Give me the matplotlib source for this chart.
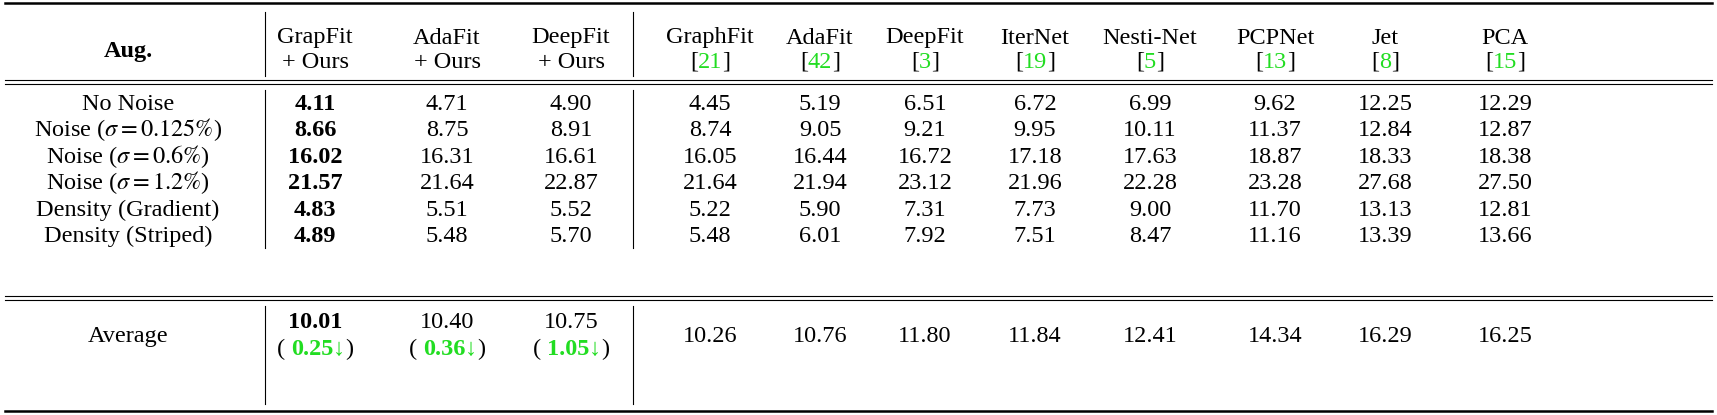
import matplotlib
matplotlib.use('Agg')
import matplotlib.pyplot as plt

plt.rcParams['font.family'] = 'Liberation Serif'
plt.rcParams['mathtext.fontset'] = 'stix'

GREEN = '#22dd22'
# column headers: (line1, line2, citation?)
headers = [('GrapFit', '+ Ours', False), ('AdaFit', '+ Ours', False), ('DeepFit', '+ Ours', False),
           ('GraphFit', '21', True), ('AdaFit', '42', True), ('DeepFit', '3', True),
           ('IterNet', '19', True), ('Nesti-Net', '5', True), ('PCPNet', '13', True),
           ('Jet', '8', True), ('PCA', '15', True)]
rowLabels = ['No Noise', r'Noise ($\sigma = 0.125\%$)', r'Noise ($\sigma = 0.6\%$)',
             r'Noise ($\sigma = 1.2\%$)', 'Density (Gradient)', 'Density (Striped)']
values = [
    ['4.11', '4.71', '4.90', '4.45', '5.19', '6.51', '6.72', '6.99', '9.62', '12.25', '12.29'],
    ['8.66', '8.75', '8.91', '8.74', '9.05', '9.21', '9.95', '10.11', '11.37', '12.84', '12.87'],
    ['16.02', '16.31', '16.61', '16.05', '16.44', '16.72', '17.18', '17.63', '18.87', '18.33', '18.38'],
    ['21.57', '21.64', '22.87', '21.64', '21.94', '23.12', '21.96', '22.28', '23.28', '27.68', '27.50'],
    ['4.83', '5.51', '5.52', '5.22', '5.90', '7.31', '7.73', '9.00', '11.70', '13.13', '12.81'],
    ['4.89', '5.48', '5.70', '5.48', '6.01', '7.92', '7.51', '8.47', '11.16', '13.39', '13.66'],
]
averages = ['10.01', '10.40', '10.75', '10.26', '10.76', '11.80', '11.84', '12.41', '14.34', '16.29', '16.25']
gains = ['0.25', '0.36', '1.05']

colX = [315, 447, 571, 710, 820, 925, 1035, 1150, 1275, 1385, 1505]
rowY = [104, 130, 157, 183, 210, 236]
labelX = 128
fs = 17.5

fig = plt.figure(figsize=(17.17, 4.15), dpi=100)
ax = fig.add_axes([0, 0, 1, 1])
ax.set_xlim(0, 1717)
ax.set_ylim(415, 0)
ax.axis('off')
renderer = fig.canvas.get_renderer()


def pieces(xc, y, parts, **kw):
    # draw a row of (text, color, weight) pieces centred on xc
    widths = []
    for s, c, w in parts:
        t = ax.text(0, y, s, fontsize=fs, color=c, fontweight=w, **kw)
        widths.append(t.get_window_extent(renderer).width)
        t.remove()
    x = xc - sum(widths) / 2
    for (s, c, w), wd in zip(parts, widths):
        ax.text(x, y, s, ha='left', va='center', fontsize=fs, color=c, fontweight=w, **kw)
        x += wd


# horizontal rules
ax.plot([5, 1712], [3, 3], color='black', lw=1.8)
ax.plot([5, 1712], [80, 80], color='black', lw=0.8)
ax.plot([5, 1712], [84, 84], color='black', lw=0.8)
ax.plot([5, 1712], [296, 296], color='black', lw=0.8)
ax.plot([5, 1712], [300, 300], color='black', lw=0.8)
ax.plot([5, 1712], [411, 411], color='black', lw=1.8)
# vertical rules
for vx in [265, 633]:
    for y0, y1 in [(12, 76), (90, 248), (306, 404)]:
        ax.plot([vx, vx], [y0, y1], color='black', lw=0.8)

ax.text(labelX, 51, 'Aug.', ha='center', va='center', fontsize=fs, fontweight='bold')
for x, (h1, h2, cite) in zip(colX, headers):
    ax.text(x, 38, h1, ha='center', va='center', fontsize=fs)
    if cite:
        pieces(x, 62, [('[', 'black', 'normal'), (h2, GREEN, 'normal'), (']', 'black', 'normal')])
    else:
        ax.text(x, 62, h2, ha='center', va='center', fontsize=fs)

for y, lab, vals in zip(rowY, rowLabels, values):
    ax.text(labelX, y, lab, ha='center', va='center', fontsize=fs)
    for i, (x, v) in enumerate(zip(colX, vals)):
        ax.text(x, y, v, ha='center', va='center', fontsize=fs,
                fontweight='bold' if i == 0 else 'normal')

ax.text(labelX, 336, 'Average', ha='center', va='center', fontsize=fs)
for i, (x, v) in enumerate(zip(colX, averages)):
    if i < 3:
        ax.text(x, 322, v, ha='center', va='center', fontsize=fs,
                fontweight='bold' if i == 0 else 'normal')
        pieces(x, 349, [('( ', 'black', 'normal'), (gains[i], GREEN, 'bold'),
                        ('\u2193', GREEN, 'normal'), (')', 'black', 'normal')],
               family=['Liberation Serif', 'DejaVu Serif'])
    else:
        ax.text(x, 336, v, ha='center', va='center', fontsize=fs)

fig.savefig('out.png', dpi=100)
